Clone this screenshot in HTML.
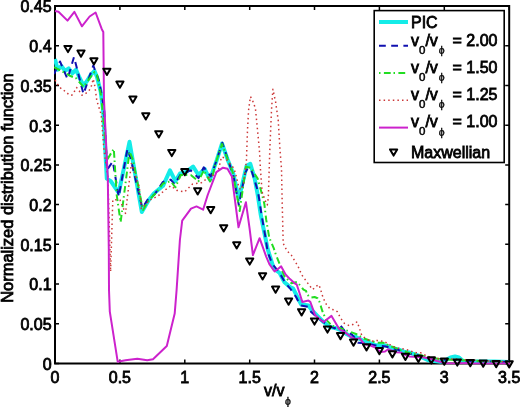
<!DOCTYPE html>
<html><head><meta charset="utf-8"><style>html,body{margin:0;padding:0;background:#fff;overflow:hidden;}svg{display:block;filter:blur(0.35px);}</style></head>
<body>
<svg width="520" height="407" viewBox="0 0 520 407">
<rect width="520" height="407" fill="#fff"/>
<defs><clipPath id="c"><rect x="54.0" y="5.0" width="456.2" height="359.5"/></clipPath></defs>
<rect x="55.0" y="6.0" width="454.2" height="357.5" fill="none" stroke="#000" stroke-width="2"/>
<path d="M55.0,363.5v-4M55.0,6.0v4M119.9,363.5v-4M119.9,6.0v4M184.8,363.5v-4M184.8,6.0v4M249.7,363.5v-4M249.7,6.0v4M314.5,363.5v-4M314.5,6.0v4M379.4,363.5v-4M379.4,6.0v4M444.3,363.5v-4M444.3,6.0v4M509.2,363.5v-4M509.2,6.0v4M55.0,363.5h4M509.2,363.5h-4M55.0,323.8h4M509.2,323.8h-4M55.0,284.1h4M509.2,284.1h-4M55.0,244.3h4M509.2,244.3h-4M55.0,204.6h4M509.2,204.6h-4M55.0,164.9h4M509.2,164.9h-4M55.0,125.2h4M509.2,125.2h-4M55.0,85.4h4M509.2,85.4h-4M55.0,45.7h4M509.2,45.7h-4M55.0,6.0h4M509.2,6.0h-4" stroke="#000" stroke-width="1.5" fill="none"/>
<g clip-path="url(#c)" fill="none" stroke-linejoin="round">
<polyline points="55.0,59.0 57.7,69.7 61.4,66.0 65.1,70.9 68.7,68.4 72.4,73.3 76.1,69.7 79.2,77.0 83.5,85.6 87.2,80.7 90.9,74.6 94.5,70.9 97.0,77.0 100.7,91.8 103.1,110.0 106.8,178.6 110.8,181.1 118.7,192.9 129.5,141.8 141.8,212.0 148.8,200.0 153.8,193.5 163.0,185.8 170.0,170.4 175.4,181.2 180.0,173.5 186.2,171.9 193.1,166.5 198.5,175.0 204.6,168.8 210.0,179.6 216.9,159.6 222.0,143.5 227.4,158.9 233.3,173.7 238.8,199.1 246.6,165.7 250.3,163.8 254.7,178.6 257.7,194.8 260.6,214.0 264.7,234.5 267.7,249.2 273.8,268.6 279.7,273.0 284.2,281.9 290.0,287.1 293.1,288.3 297.4,297.0 301.1,304.3 308.4,305.5 312.1,310.5 317.4,315.9 323.5,322.0 329.7,326.9 335.8,328.2 341.9,330.6 346.9,334.3 354.2,338.0 355.0,336.5 364.2,341.2 375.0,345.0 385.0,345.4 391.2,347.7 400.0,350.0 405.0,352.0 409.6,352.6 418.0,355.5 428.1,360.3 434.2,361.1 440.4,361.8 446.0,360.0 450.5,357.5 455.0,356.5 459.0,357.5 463.0,361.0 470.0,361.5 480.0,361.5 495.0,361.5 509.0,362.0" stroke="#14ece8" stroke-width="4"/>
<polyline points="54.0,74.0 60.0,61.5 67.5,79.0 74.0,57.0 83.5,94.0 93.3,65.5 99.2,81.3 104.1,108.8 107.0,170.0 112.8,161.4 118.7,196.8 127.5,148.7 131.0,160.0 142.3,208.0 147.4,200.1 154.7,194.2 163.0,181.9 170.8,179.6 174.6,184.2 180.8,174.2 190.8,170.4 198.5,178.1 203.8,167.3 210.8,176.5 216.0,162.0 222.3,142.7 228.0,160.0 233.3,175.0 238.8,205.0 245.2,172.7 248.0,168.0 252.0,172.0 257.7,190.4 259.2,199.2 261.4,214.0 265.5,237.4 267.7,252.2 272.4,264.2 279.0,272.0 285.6,283.3 290.0,288.3 296.1,297.0 298.6,301.9 301.1,305.5 308.4,306.8 310.9,311.7 318.0,318.0 328.4,325.7 334.6,328.2 340.7,325.7 344.4,330.6 351.8,334.3 355.0,338.1 358.1,342.7 366.0,343.5 376.0,345.5 386.0,346.5 398.8,350.0 402.7,352.3 412.0,354.0 419.6,355.4 425.0,357.0 440.0,359.5 455.0,360.0 470.0,361.0 490.0,361.5 509.0,362.0" stroke="#1010b0" stroke-width="2" stroke-dasharray="6.8,5.4"/>
<polyline points="54.0,67.2 61.4,70.9 70.0,75.8 76.1,78.3 83.5,86.9 89.6,78.3 94.5,72.1 97.0,75.0 101.0,95.0 104.0,125.0 107.0,160.0 113.8,148.7 116.7,194.9 120.6,222.3 129.5,151.6 133.0,160.0 143.0,210.0 148.8,200.1 155.0,194.0 163.0,183.5 170.8,181.2 175.4,187.3 180.8,175.0 190.8,175.0 198.5,181.2 203.8,170.4 210.8,182.7 216.0,162.0 222.0,144.0 228.0,160.0 233.0,173.0 239.7,211.0 245.9,166.8 251.0,168.0 257.7,178.6 262.1,194.8 264.3,203.7 266.2,219.7 269.2,237.4 273.6,247.8 276.1,255.3 279.7,264.2 284.2,276.0 291.5,283.3 296.1,282.2 298.0,282.8 303.5,289.6 306.0,290.8 307.2,294.5 310.3,297.6 314.6,297.0 317.6,298.2 319.5,301.9 322.3,311.0 326.0,319.6 332.1,325.7 340.7,328.2 350.5,331.9 356.7,334.3 364.0,338.5 376.5,342.7 382.7,342.7 385.0,343.0 389.6,346.2 394.2,347.3 401.2,350.4 409.6,353.1 416.5,354.2 427.0,357.0 440.0,359.0 455.0,360.0 470.0,360.5 490.0,361.5 509.0,362.0" stroke="#22dd22" stroke-width="2" stroke-dasharray="6.8,2.8,1.5,3.4"/>
<polyline points="55.0,80.0 57.8,84.6 61.7,89.4 65.5,91.3 68.9,94.7 71.8,95.2 74.2,91.8 76.6,87.5 79.5,91.3 81.9,95.2 85.0,94.0 88.6,91.3 91.0,87.5 93.2,79.0 95.0,87.0 96.8,100.5 101.2,114.7 104.0,150.0 107.9,177.2 110.6,271.5 112.8,199.7 120.0,200.0 125.5,213.4 131.4,163.4 139.3,187.0 141.3,208.6 150.0,200.0 158.0,196.0 164.6,190.4 170.8,185.8 176.9,190.4 184.6,191.9 192.3,184.2 201.5,182.7 207.7,178.0 213.8,175.0 218.4,170.0 221.5,157.0 225.0,158.0 230.1,163.9 233.2,167.6 235.4,172.7 238.4,185.6 240.5,190.0 243.7,183.4 246.4,161.0 247.5,130.0 248.6,110.0 250.4,96.6 252.3,99.7 255.4,108.3 257.2,126.7 259.4,150.0 260.5,170.0 262.1,191.9 265.8,202.2 267.3,205.0 268.3,197.8 269.8,150.0 271.5,110.0 272.9,89.2 275.6,102.0 278.2,120.0 280.0,150.0 281.5,169.0 282.1,198.6 283.2,243.3 286.9,250.7 291.3,255.1 298.0,266.2 301.7,274.8 306.6,281.6 309.7,285.9 312.7,289.6 315.8,286.5 318.9,284.7 320.7,289.6 322.0,294.5 324.4,300.6 326.9,305.5 330.5,309.2 334.2,309.8 337.3,311.7 340.7,318.3 344.4,323.3 349.3,325.7 353.0,324.5 356.7,322.0 357.3,321.9 358.8,326.5 360.4,331.2 361.9,335.8 367.3,339.6 371.9,341.2 378.1,340.4 382.7,341.2 387.3,343.1 391.9,345.8 397.3,348.1 405.8,349.2 409.6,350.8 416.5,352.7 420.4,352.7 428.0,356.5 440.0,359.0 455.0,359.0 470.0,360.0 490.0,361.0 509.0,362.0" stroke="#cc3838" stroke-width="1.5" stroke-dasharray="1.5,3.1"/>
<polyline points="55.0,11.1 58.5,11.8 67.5,20.6 74.4,11.9 81.9,26.3 89.6,16.5 95.6,12.5 101.8,29.2 103.3,32.0 104.0,100.0 107.8,178.0 108.8,250.0 109.0,290.0 109.8,311.6 117.7,361.7 125.5,360.3 137.3,358.8 147.2,360.3 153.0,359.2 166.8,346.0 174.7,313.6 176.6,290.0 179.9,240.0 182.2,220.7 191.0,208.6 196.5,206.4 203.1,209.7 207.7,195.0 216.4,172.1 223.0,167.7 227.5,168.8 231.9,176.5 238.5,227.3 245.9,202.2 249.6,228.6 252.9,255.1 259.6,238.2 266.2,256.6 269.4,264.2 274.6,271.5 281.2,266.4 285.6,274.5 290.0,279.1 294.9,283.4 296.8,284.7 299.2,292.0 302.3,301.9 308.4,300.6 310.3,301.9 314.9,314.7 318.6,318.3 323.5,322.0 331.5,315.9 335.8,323.3 339.5,329.4 344.4,331.9 350.5,336.8 355.5,339.2 359.6,338.1 364.2,344.2 369.0,345.0 375.0,347.3 380.4,351.9 385.0,351.5 388.1,349.2 396.5,352.3 401.0,352.5 405.0,354.9 409.6,356.5 422.7,357.2 430.4,358.8 437.0,361.0 446.0,363.2 458.5,363.6 466.2,363.0 475.0,363.5 490.0,363.6 510.0,363.6" stroke="#cc22cc" stroke-width="2"/>
</g>
<g fill="none" stroke="#000" stroke-width="2" stroke-linejoin="round">
<path d="M64.4,45.9L71.6,45.9L68.0,52.1Z"/>
<path d="M77.4,50.6L84.6,50.6L81.0,56.8Z"/>
<path d="M90.3,58.3L97.5,58.3L93.9,64.5Z"/>
<path d="M103.3,68.7L110.5,68.7L106.9,74.9Z"/>
<path d="M116.3,81.6L123.5,81.6L119.9,87.8Z"/>
<path d="M129.3,96.6L136.5,96.6L132.9,102.8Z"/>
<path d="M142.2,113.2L149.4,113.2L145.8,119.4Z"/>
<path d="M155.2,131.2L162.4,131.2L158.8,137.4Z"/>
<path d="M168.2,149.9L175.4,149.9L171.8,156.1Z"/>
<path d="M181.2,169.1L188.4,169.1L184.8,175.3Z"/>
<path d="M194.1,188.2L201.3,188.2L197.7,194.4Z"/>
<path d="M207.1,207.0L214.3,207.0L210.7,213.2Z"/>
<path d="M220.1,225.2L227.3,225.2L223.7,231.4Z"/>
<path d="M233.1,242.3L240.3,242.3L236.7,248.5Z"/>
<path d="M246.1,258.4L253.3,258.4L249.7,264.6Z"/>
<path d="M259.0,273.2L266.2,273.2L262.6,279.4Z"/>
<path d="M272.0,286.6L279.2,286.6L275.6,292.8Z"/>
<path d="M285.0,298.6L292.2,298.6L288.6,304.8Z"/>
<path d="M298.0,309.2L305.2,309.2L301.6,315.4Z"/>
<path d="M310.9,318.4L318.1,318.4L314.5,324.6Z"/>
<path d="M323.9,326.4L331.1,326.4L327.5,332.6Z"/>
<path d="M336.9,333.1L344.1,333.1L340.5,339.3Z"/>
<path d="M349.9,339.5L357.1,339.5L353.5,345.7Z"/>
<path d="M362.9,344.2L370.1,344.2L366.5,350.4Z"/>
<path d="M375.8,348.1L383.0,348.1L379.4,354.3Z"/>
<path d="M388.8,351.2L396.0,351.2L392.4,357.4Z"/>
<path d="M401.8,353.7L409.0,353.7L405.4,359.9Z"/>
<path d="M414.8,355.7L422.0,355.7L418.4,361.9Z"/>
<path d="M427.7,357.3L434.9,357.3L431.3,363.5Z"/>
<path d="M440.7,358.5L447.9,358.5L444.3,364.7Z"/>
<path d="M453.7,359.4L460.9,359.4L457.3,365.6Z"/>
<path d="M466.7,360.1L473.9,360.1L470.3,366.3Z"/>
<path d="M479.6,360.6L486.8,360.6L483.2,366.8Z"/>
<path d="M492.6,361.0L499.8,361.0L496.2,367.2Z"/>
<path d="M505.6,361.3L512.8,361.3L509.2,367.5Z"/>
</g>
<g font-family='"Liberation Sans", Arial, Helvetica, sans-serif' fill="#000" stroke="#000" stroke-width="0.8" font-size="16">
<text x="55.0" y="382.5" text-anchor="middle">0</text>
<text x="119.9" y="382.5" text-anchor="middle">0.5</text>
<text x="184.8" y="382.5" text-anchor="middle">1</text>
<text x="249.7" y="382.5" text-anchor="middle">1.5</text>
<text x="314.5" y="382.5" text-anchor="middle">2</text>
<text x="379.4" y="382.5" text-anchor="middle">2.5</text>
<text x="444.3" y="382.5" text-anchor="middle">3</text>
<text x="509.2" y="382.5" text-anchor="middle">3.5</text>
<text x="51.6" y="369.8" text-anchor="end">0</text>
<text x="51.6" y="330.1" text-anchor="end">0.05</text>
<text x="51.6" y="290.4" text-anchor="end">0.1</text>
<text x="51.6" y="250.6" text-anchor="end">0.15</text>
<text x="51.6" y="210.9" text-anchor="end">0.2</text>
<text x="51.6" y="171.2" text-anchor="end">0.25</text>
<text x="51.6" y="131.5" text-anchor="end">0.3</text>
<text x="51.6" y="91.7" text-anchor="end">0.35</text>
<text x="51.6" y="52.0" text-anchor="end">0.4</text>
<text x="51.6" y="12.3" text-anchor="end">0.45</text>
</g>
<text font-family='"Liberation Sans", Arial, Helvetica, sans-serif' fill="#000" stroke="#000" stroke-width="0.8" font-size="16" x="264" y="396">v/v<tspan font-size="10.5" stroke-width="0.35" dx="0.6" dy="9">ϕ</tspan></text>
<text font-family='"Liberation Sans", Arial, Helvetica, sans-serif' fill="#000" stroke="#000" stroke-width="0.8" font-size="16.45" transform="translate(13,188.1) rotate(-90)" text-anchor="middle">Normalized distribution function</text>
<rect x="374.2" y="10.6" width="130.0" height="151.9" fill="#fff" stroke="#000" stroke-width="1.6"/>
<line x1="379" y1="22" x2="408" y2="22" stroke="#14ece8" stroke-width="4"/>
<line x1="379" y1="45.7" x2="408" y2="45.7" stroke="#1010b0" stroke-width="2" stroke-dasharray="6.8,5.4"/>
<line x1="379" y1="73.1" x2="408" y2="73.1" stroke="#22dd22" stroke-width="2" stroke-dasharray="1.5,3.4,6.8,2.8"/>
<line x1="379" y1="100.3" x2="408" y2="100.3" stroke="#cc3838" stroke-width="1.5" stroke-dasharray="1.5,3.1"/>
<line x1="379" y1="127.6" x2="408" y2="127.6" stroke="#cc22cc" stroke-width="2"/>
<path d="M390.0,149.4L397.2,149.4L393.6,155.6Z" fill="none" stroke="#000" stroke-width="2" stroke-linejoin="round"/>
<g font-family='"Liberation Sans", Arial, Helvetica, sans-serif' fill="#000" stroke="#000" stroke-width="0.8" font-size="16">
<text x="411" y="28.0">PIC</text>
<text x="411" y="45.7">v<tspan font-size="11.5" stroke-width="0.5" dy="7.8">0</tspan><tspan dy="-7.8">/v</tspan><tspan font-size="10.5" stroke-width="0.35" dx="0.8" dy="8.5">ϕ</tspan><tspan dy="-8.5" x="452.5">= 2.00</tspan></text>
<text x="411" y="72.8">v<tspan font-size="11.5" stroke-width="0.5" dy="7.8">0</tspan><tspan dy="-7.8">/v</tspan><tspan font-size="10.5" stroke-width="0.35" dx="0.8" dy="8.5">ϕ</tspan><tspan dy="-8.5" x="452.5">= 1.50</tspan></text>
<text x="411" y="99.8">v<tspan font-size="11.5" stroke-width="0.5" dy="7.8">0</tspan><tspan dy="-7.8">/v</tspan><tspan font-size="10.5" stroke-width="0.35" dx="0.8" dy="8.5">ϕ</tspan><tspan dy="-8.5" x="452.5">= 1.25</tspan></text>
<text x="411" y="127.0">v<tspan font-size="11.5" stroke-width="0.5" dy="7.8">0</tspan><tspan dy="-7.8">/v</tspan><tspan font-size="10.5" stroke-width="0.35" dx="0.8" dy="8.5">ϕ</tspan><tspan dy="-8.5" x="452.5">= 1.00</tspan></text>
<text x="411" y="157.5">Maxwellian</text>
</g>
</svg>
</body></html>
